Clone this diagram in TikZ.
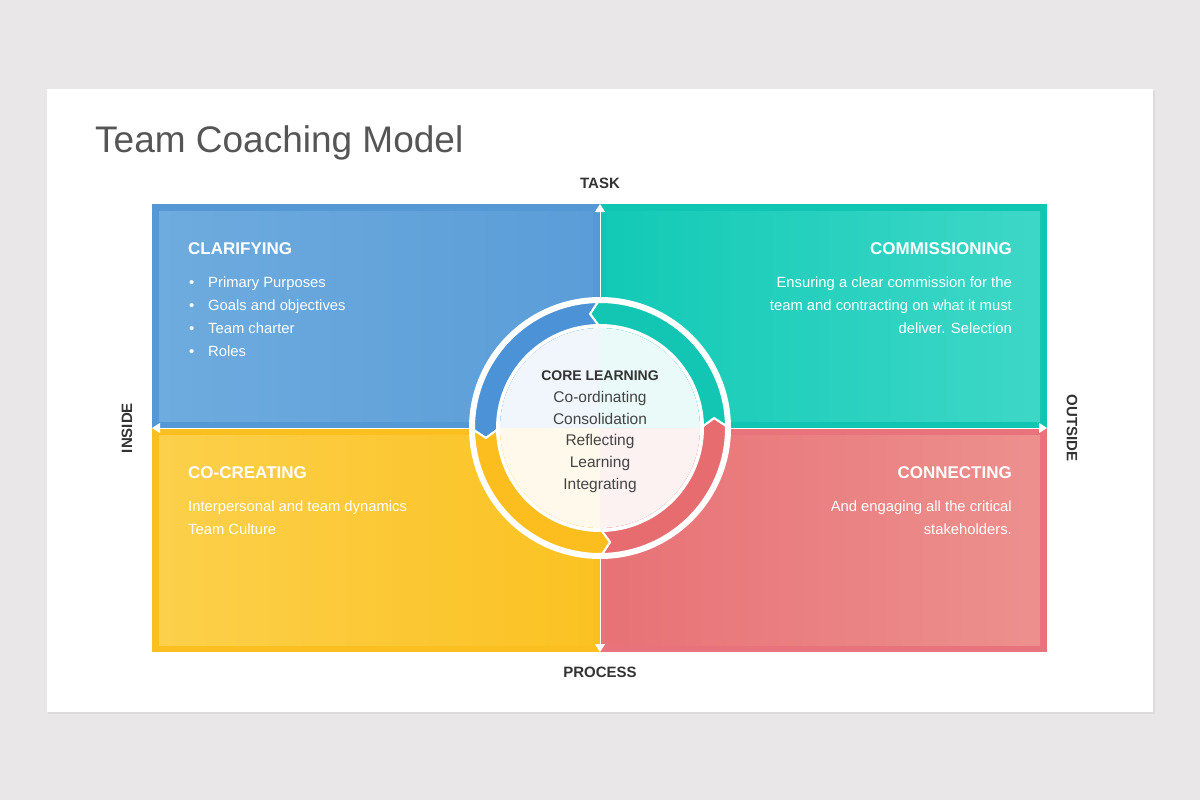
\documentclass[tikz,border=0pt]{standalone}
\usepackage{fontspec}
\setmainfont{Liberation Sans}
\usetikzlibrary{arrows.meta}
\definecolor{pagegray}{HTML}{E9E7E8}
\definecolor{cardshade}{HTML}{DDDBDC}
\definecolor{titlegray}{HTML}{555555}
\definecolor{labelgray}{HTML}{333333}
\definecolor{coregray}{HTML}{444444}
\definecolor{blueedge}{HTML}{5598D6}
\definecolor{bluelight}{HTML}{6EABDE}
\definecolor{bluedark}{HTML}{5A9DD8}
\definecolor{tealedge}{HTML}{10C5B1}
\definecolor{teallight}{HTML}{3ED7C7}
\definecolor{tealdark}{HTML}{12CAB6}
\definecolor{yellowedge}{HTML}{FBC01F}
\definecolor{yellowlight}{HTML}{FCD04B}
\definecolor{yellowdark}{HTML}{FBC222}
\definecolor{rededge}{HTML}{E8737A}
\definecolor{redlight}{HTML}{EC908E}
\definecolor{reddark}{HTML}{E87276}
\definecolor{ringblue}{HTML}{4B93D6}
\definecolor{ringteal}{HTML}{13C6B3}
\definecolor{ringred}{HTML}{E76C6F}
\definecolor{ringyellow}{HTML}{FBBE1E}

\begin{document}
\begin{tikzpicture}[x=1pt,y=1pt]
\tikzset{
  pagetitle/.style={anchor=base west,inner sep=0,text=titlegray,font=\fontsize{37}{40}\selectfont},
  axislabel/.style={inner sep=0,text=labelgray,font=\fontsize{15}{18}\selectfont\bfseries},
  quadhead/.style={inner sep=0,text=white,font=\fontsize{17}{20}\selectfont\bfseries},
  quadtext/.style={inner sep=0,text=white,font=\fontsize{14.8}{18}\selectfont},
  coretext/.style={anchor=base,inner sep=0,text=coregray,font=\fontsize{15.5}{18}\selectfont},
  axisline/.style={draw=white,line width=1pt,{Triangle[width=10pt,length=8pt]}-{Triangle[width=10pt,length=8pt]}}
}
\useasboundingbox (0,0) rectangle (1200,-800);
\fill[pagegray] (0,0) rectangle (1200,-800);
\fill[cardshade] (48,-91) rectangle (1155,-714);
\fill[white] (47,-89) rectangle (1153,-712);

\node (title) at (95,-152) [pagetitle] {Team Coaching Model};

\foreach \xa/\ya/\xb/\yb/\edge/\lc/\rc in {
  152/-204/600/-428/blueedge/bluelight/bluedark,
  600/-204/1047/-428/tealedge/tealdark/teallight,
  152/-428/600/-652/yellowedge/yellowlight/yellowdark,
  600/-428/1047/-652/rededge/reddark/redlight}
{
  \fill[\edge] (\xa,\ya) rectangle (\xb,\yb);
  \shade[left color=\lc,right color=\rc] (\xa+7,\ya-7) rectangle (\xb-7,\yb+7);
}

\coordinate (top) at (600,-204);
\coordinate (bottom) at (600,-652);
\coordinate (left) at (152,-428);
\coordinate (right) at (1047,-428);
\path
(top) edge [axisline] (bottom)
(left) edge [axisline] (right);

\node (task) at (600,-183) [axislabel] {TASK};
\node (process) at (600,-672) [axislabel] {PROCESS};
\node (inside) at (127,-428) [axislabel,rotate=90] {INSIDE};
\node (outside) at (1072,-428) [axislabel,rotate=-90] {OUTSIDE};

\node (clarifying) at (188,-254) [quadhead,anchor=base west] {CLARIFYING};
\foreach \t [count=\i] in {Primary Purposes,Goals and objectives,Team charter,Roles}
{
  \node (clbullet\i) at (189,{-264-23*\i}) [quadtext,anchor=base west] {\textbullet};
  \node (clitem\i) at (208,{-264-23*\i}) [quadtext,anchor=base west] {\t};
}

\node (commissioning) at (1012,-254) [quadhead,anchor=base east] {COMMISSIONING};
\foreach \t [count=\i] in {Ensuring a clear commission for the,team and contracting on what it must,deliver. Selection}
  \node (coline\i) at (1012,{-264-23*\i}) [quadtext,anchor=base east] {\t};

\node (cocreating) at (188,-478) [quadhead,anchor=base west] {CO-CREATING};
\node (ccline1) at (188,-511) [quadtext,anchor=base west] {Interpersonal and team dynamics};
\node (ccline2) at (188,-534) [quadtext,anchor=base west] {Team Culture};

\node (connecting) at (1012,-478) [quadhead,anchor=base east] {CONNECTING};
\node (cnline1) at (1012,-511) [quadtext,anchor=base east] {And engaging all the critical};
\node (cnline2) at (1012,-534) [quadtext,anchor=base east] {stakeholders.};

\begin{scope}[shift={(600,-428)}]
\fill[white,even odd rule] (0,0) circle (131) circle (100);
\foreach \a/\col in {-89/ringred,1/ringteal,91/ringblue,181/ringyellow}
  \filldraw[fill=\col,draw=white,line width=2pt,line join=miter]
    (\a:126) arc[start angle=\a,end angle=\a+90,radius=126]
    -- (\a+94:114.5) -- (\a+90:103)
    arc[start angle=\a+90,end angle=\a,radius=103]
    -- (\a+4:114.5) -- cycle;
\begin{scope}
\clip (0,0) circle (100);
\fill[bluedark] (-100,0) rectangle (0,100);
\fill[tealdark] (0,0) rectangle (100,100);
\fill[yellowdark] (-100,-100) rectangle (0,0);
\fill[reddark] (0,-100) rectangle (100,0);
\end{scope}
\fill[white,opacity=0.91] (0,0) circle (100);
\end{scope}

\node (core) at (600,-380) [coretext,font=\fontsize{14}{18}\selectfont\bfseries,text=labelgray] {CORE LEARNING};
\foreach \t [count=\i] in {Co-ordinating,Consolidation,Reflecting,Learning,Integrating}
  \node (coreline\i) at (600,{-381-21.6*\i}) [coretext] {\t};
\end{tikzpicture}
\end{document}
